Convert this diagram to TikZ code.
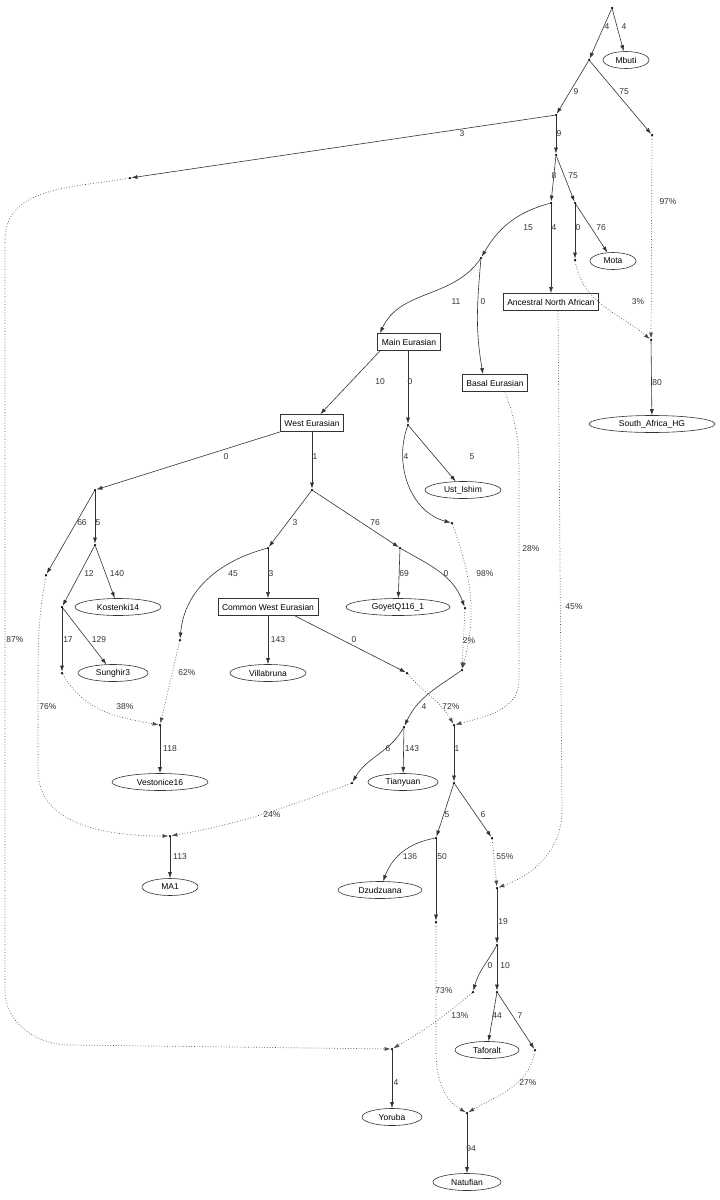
\documentclass[tikz,border=0pt]{standalone}
\usepackage{fontspec}
\setmainfont{Liberation Sans}
\usetikzlibrary{arrows.meta,shapes.geometric}
\begin{document}
\begin{tikzpicture}[x=1pt,y=-1pt,
  e/.style={draw=black!80,line width=0.6pt,-{Latex[length=6pt,width=4pt]}},
  d/.style={draw=black!70,line width=0.7pt,dotted,-{Latex[length=6pt,width=4pt]}},
  leaf/.style={draw=black!80,ellipse,line width=0.6pt,minimum height=17pt,inner sep=1pt,font=\fontsize{8.5}{9}\selectfont},
  grp/.style={draw=black!80,rectangle,line width=0.8pt,minimum height=17pt,inner sep=4pt,font=\fontsize{8.5}{9}\selectfont},
  lb/.style={font=\fontsize{8.5}{9}\selectfont,inner sep=0pt,text=black!80},
  dot/.style={circle,fill=black,inner sep=0pt,minimum size=2.5pt}]
\useasboundingbox[fill=white] (0,0) rectangle (720,1200);
% internal points
\foreach \n/\x/\y in {n0/612/8,n1/589/60,n2/556/115,n3/556/155,n4/652/135,ln/130/178,n5/551/203,n6/575/203,n7/575/260,n8/481/258,sam/651/340,n9/408/425,n10/452/523,n11/95/490,n12/312/490,n13/46/575,n14/95/545,n15/62/607,n16/62/673,n17/268/548,n18/400/548,n19/180/640,n20/465/608,n21/407/673,n22/462/670,vm/160/725,n24/454/725,n25/404/727,n26/352/783,n27/454/783,mam/170/836,n28/436/838,n29/492/838,n30/436/922,n31/497/888,n32/497/945,n33/473/992,n34/497/992,n35/535/1050,ym/392/1049,nm/467/1113}
  {\node[dot] (\n) at (\x,\y) {};}
% leaves and groups
\node[leaf,minimum width=46pt] (mbuti) at (626,60) {Mbuti};
\node[leaf,minimum width=46pt] (mota) at (613,261) {Mota};
\node[grp] (ana) at (551,302) {Ancestral North African};
\node[grp] (me) at (409,342) {Main Eurasian};
\node[grp] (be) at (495,383) {Basal Eurasian};
\node[leaf,minimum width=126pt] (sahg) at (652,424) {South\_Africa\_HG};
\node[grp] (we) at (312,423) {West Eurasian};
\node[leaf,minimum width=76pt] (ust) at (463,490) {Ust\_Ishim};
\node[leaf,minimum width=86pt] (kos) at (118,607) {Kostenki14};
\node[leaf,minimum width=70pt] (sun) at (113,673) {Sunghir3};
\node[grp] (cwe) at (268,607) {Common West Eurasian};
\node[leaf,minimum width=104pt] (goy) at (398,607) {GoyetQ116\_1};
\node[leaf,minimum width=76pt] (vil) at (268,673) {Villabruna};
\node[leaf,minimum width=96pt] (ves) at (160,782) {Vestonice16};
\node[leaf,minimum width=70pt] (tia) at (403,782) {Tianyuan};
\node[leaf,minimum width=56pt] (ma1) at (170,887) {MA1};
\node[leaf,minimum width=84pt] (dzu) at (380,890) {Dzudzuana};
\node[leaf,minimum width=64pt] (taf) at (487,1050) {Taforalt};
\node[leaf,minimum width=60pt] (yor) at (392,1117) {Yoruba};
\node[leaf,minimum width=68pt] (nat) at (467,1182) {Natufian};
% solid edges
\draw[e] (n0)--(n1); \draw[e] (n0)--(mbuti);
\draw[e] (n1)--(n2); \draw[e] (n1)--(n4);
\draw[e] (n2)--(ln); \draw[e] (n2)--(n3);
\draw[e] (n3)--(n5); \draw[e] (n3)--(n6);
\draw[e] (n6)--(n7); \draw[e] (n6)--(mota);
\draw[e] (n5)--(ana);
\draw[e] (n5) to[out=195,in=60] (n8);
\draw[e] (n8) to[out=235,in=65] (me.north west -| 380,0);
\draw[e] (n8) to[out=265,in=100] (be.north west -| 483,0);
\draw[e] (sam)--(sahg);
\draw[e] (me.south west -| 380,0)--(we);
\draw[e] (me.south -| n9)--(n9);
\draw[e] (n9)--(ust);
\draw[e] (n9) to[out=250,in=165] (n10);
\draw[e] (we.south west)--(n11);
\draw[e] (we.south -| n12)--(n12);
\draw[e] (n11)--(n13); \draw[e] (n11)--(n14);
\draw[e] (n14)--(n15); \draw[e] (n14)--(kos);
\draw[e] (n15)--(n16); \draw[e] (n15)--(sun);
\draw[e] (n12)--(n17); \draw[e] (n12)--(n18);
\draw[e] (n17) to[out=195,in=85] (n19);
\draw[e] (n17)--(cwe);
\draw[e] (n18)--(goy);
\draw[e] (n18) to[out=-30,in=110] (n20);
\draw[e] (cwe.south -| vil)--(vil);
\draw[e] (cwe.south east -| 295,0)--(n21);
\draw[e] (vm)--(ves);
\draw[e] (n22) to[out=215,in=65] (n25);
\draw[e] (n25)--(tia);
\draw[e] (n25) to[out=240,in=60] (n26);
\draw[e] (n24)--(n27);
\draw[e] (mam)--(ma1);
\draw[e] (n27)--(n28); \draw[e] (n27)--(n29);
\draw[e] (n28) to[out=190,in=70] (dzu);
\draw[e] (n28)--(n30);
\draw[e] (n31)--(n32);
\draw[e] (n32) to[out=240,in=75] (n33);
\draw[e] (n32)--(n34);
\draw[e] (n34)--(taf); \draw[e] (n34)--(n35);
\draw[e] (ym)--(yor);
\draw[e] (nm)--(nat);
% dotted admixture edges
\draw[d] (n4)--(sam);
\draw[d] (n7) to[out=-80,in=140] (sam);
\draw[d] (ana.south -| 558,0) -- (562,810) to[out=-90,in=20] (n31);
\draw[d] (be.south -| 505,0) to[out=-70,in=90] (519,470) -- (519,680) to[out=-90,in=15] (n24);
\draw[d] (n10) to[out=-70,in=75] (n22);
\draw[d] (n20)--(n22);
\draw[d] (n21) to[out=-50,in=120] (n24);
\draw[d] (n16) to[out=-60,in=170] (vm);
\draw[d] (n19)--(vm);
\draw[d] (n13) to[out=-100,in=90] (38,680) -- (38,770) to[out=-90,in=180] (mam);
\draw[d] (n26) to[out=200,in=10] (mam);
\draw[d] (ln) to[out=190,in=90] (5,240) -- (5,990) to[out=-90,in=180] (70,1045) -- (ym);
\draw[d] (n33) to[out=220,in=30] (ym);
\draw[d] (n30) -- (436,1050) to[out=-90,in=150] (nm);
\draw[d] (n35) to[out=-100,in=30] (nm);
\draw[d] (n29)--(n31);
% labels
\foreach \x/\y/\t in {607/27/4,624/27/4,576/92/9,624/92/75,462/134/3,559/134/9,554/176/8,573/176/75,668/202/97\%,528/228/15,554/228/4,578/228/0,601/228/76,456/302/11,483/302/0,638/302/3\%,380/382/10,410/382/0,657/383/80,406/457/4,472/457/5,226/457/0,315/457/1,82/523/66,98/523/5,89/574/12,117/574/140,295/523/3,375/523/76,233/574/45,271/574/3,404/574/69,446/574/0,485/574/98\%,531/549/28\%,574/607/45\%,15/640/87\%,68/640/17,99/640/129,278/640/143,354/640/0,469/641/2\%,187/673/62\%,48/707/76\%,125/707/38\%,424/707/4,451/707/72\%,457/749/1,170/749/118,388/749/6,412/749/143,272/815/24\%,447/815/5,483/815/6,180/857/113,410/857/136,442/857/50,505/857/55\%,503/922/19,490/966/0,505/966/10,444/991/73\%,460/1016/13\%,497/1016/44,520/1016/7,396/1083/4,528/1083/27\%,471/1149/94}
  {\node[lb] at (\x,\y) {\t};}
\end{tikzpicture}
\end{document}
